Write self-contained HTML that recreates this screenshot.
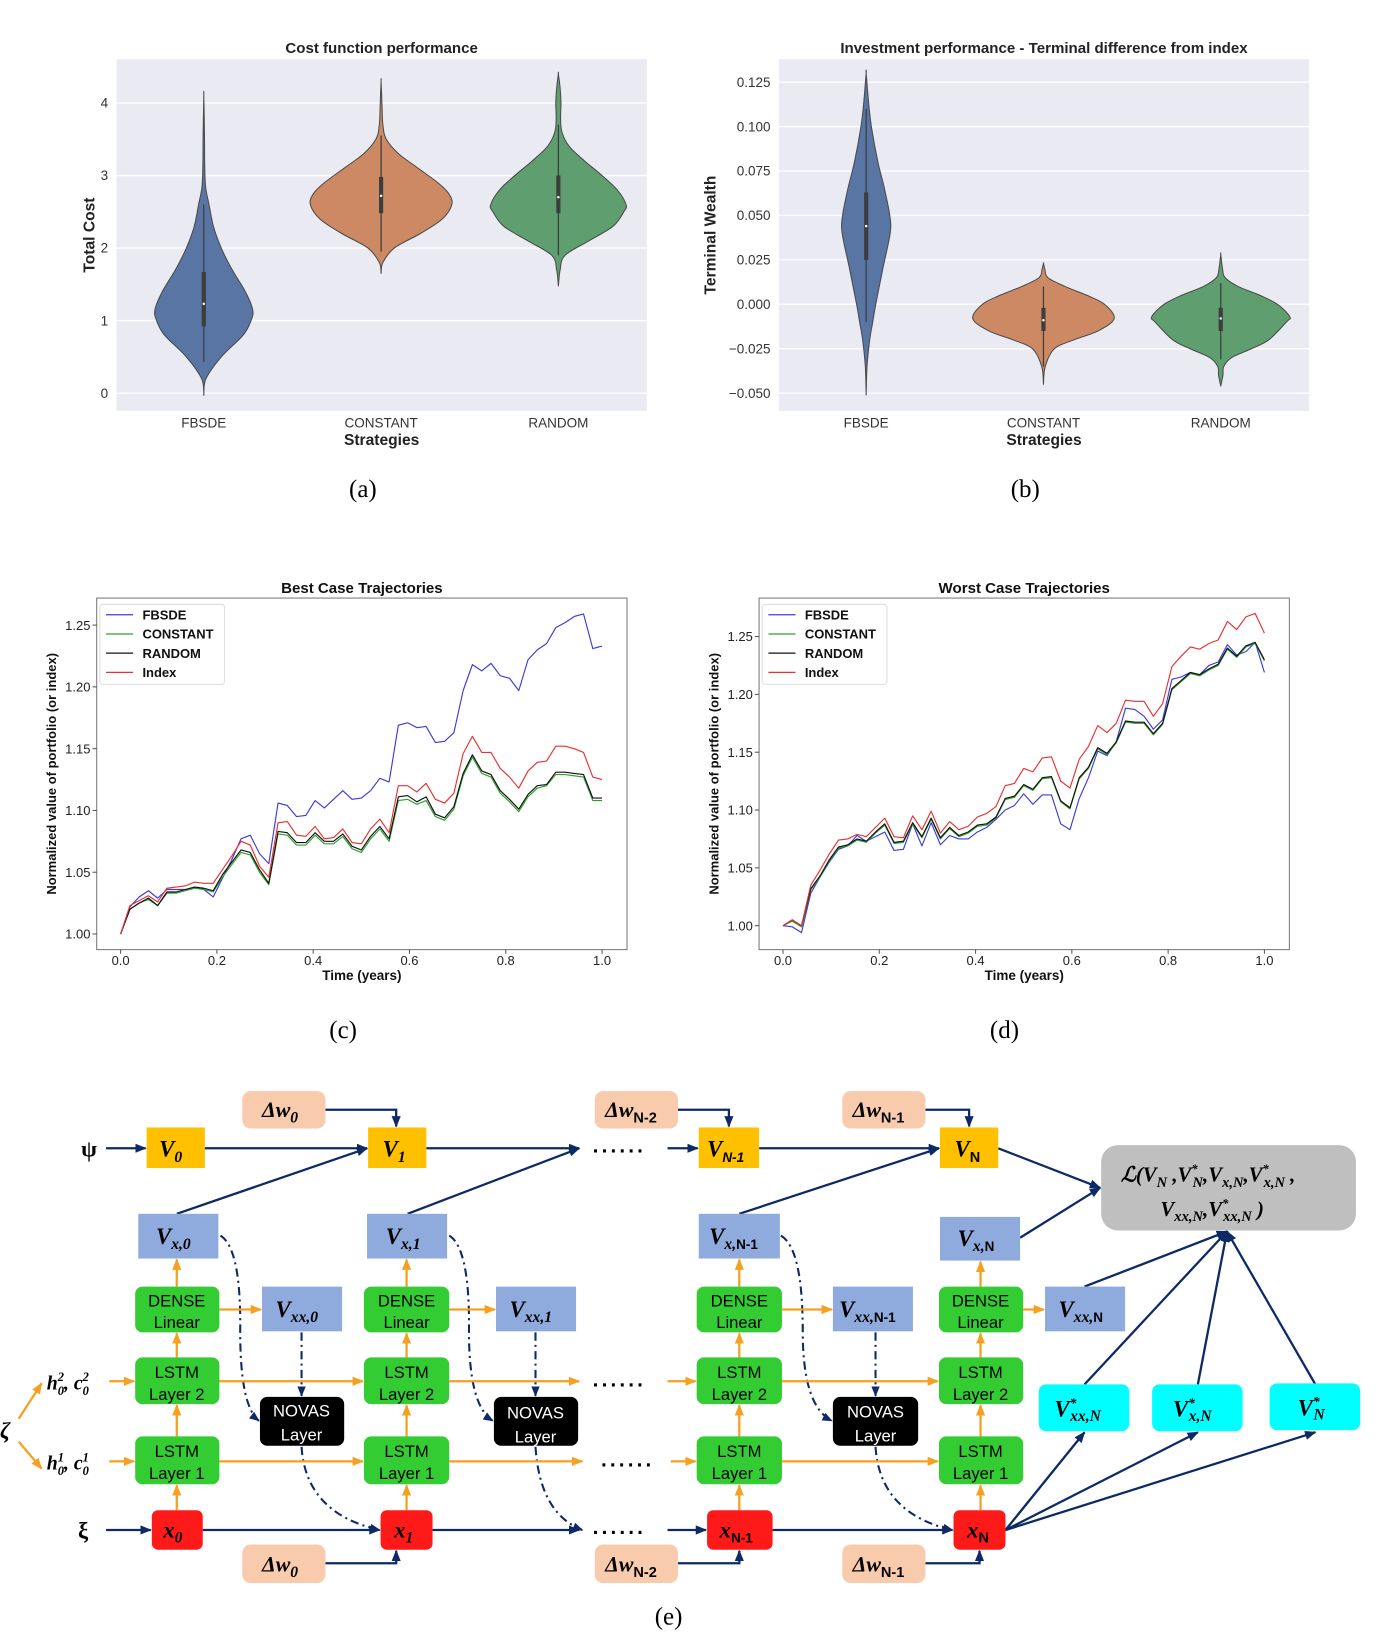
<!DOCTYPE html>
<html><head><meta charset="utf-8">
<style>
html,body{margin:0;padding:0;background:#fff;}
svg{display:block;}
.t{font-family:"Liberation Sans",sans-serif;}
.m{font-family:"Liberation Serif",serif;font-style:italic;font-weight:bold;}
.s{font-family:"Liberation Serif",serif;}
</style></head>
<body>
<svg id="root" width="1384" height="1634" viewBox="0 0 1331 1571" preserveAspectRatio="none" xmlns="http://www.w3.org/2000/svg">
<defs>
<marker id="an" viewBox="0 0 10 10" refX="9" refY="5" markerWidth="5" markerHeight="5" orient="auto"><path d="M0,1 L10,5 L0,9 z" fill="#0d2a66"/></marker>
<marker id="ao" viewBox="0 0 10 10" refX="9" refY="5" markerWidth="5" markerHeight="5" orient="auto"><path d="M0,1 L10,5 L0,9 z" fill="#f5a020"/></marker>
</defs>
<g id="charts"></g>
<text class="s" x="349" y="478" font-size="24" text-anchor="middle">(a)</text>
<text class="s" x="986" y="478" font-size="24" text-anchor="middle">(b)</text>
<text class="s" x="330" y="998" font-size="24" text-anchor="middle">(c)</text>
<text class="s" x="966" y="998" font-size="24" text-anchor="middle">(d)</text>
<text class="s" x="643" y="1562" font-size="24" text-anchor="middle">(e)</text>

<g id="diagram">
<g stroke="#0d2a66" stroke-width="2.2" fill="none">
<line x1="102" y1="1104" x2="140" y2="1104" marker-end="url(#an)"/>
<line x1="197" y1="1104" x2="353" y2="1104" marker-end="url(#an)"/>
<line x1="170" y1="1167" x2="353" y2="1104" marker-end="url(#an)"/>
<polyline points="313,1067 381,1067 381,1083" marker-end="url(#an)"/>
<line x1="410" y1="1104" x2="557" y2="1104" marker-end="url(#an)"/>
<line x1="392" y1="1167" x2="557" y2="1104" marker-end="url(#an)"/>
<line x1="642" y1="1104" x2="671" y2="1104" marker-end="url(#an)"/>
<polyline points="652,1067 701,1067 701,1083" marker-end="url(#an)"/>
<line x1="730" y1="1104" x2="903" y2="1104" marker-end="url(#an)"/>
<line x1="711" y1="1167" x2="903" y2="1104" marker-end="url(#an)"/>
<polyline points="890,1067 932,1067 932,1083" marker-end="url(#an)"/>
<line x1="960" y1="1104" x2="1058" y2="1142" marker-end="url(#an)"/>
<line x1="981" y1="1190" x2="1058" y2="1142" marker-end="url(#an)"/>
<line x1="1043" y1="1237" x2="1180" y2="1184" marker-end="url(#an)"/>
<line x1="1043" y1="1331" x2="1180" y2="1184" marker-end="url(#an)"/>
<line x1="1152" y1="1331" x2="1180" y2="1184" marker-end="url(#an)"/>
<line x1="1265" y1="1331" x2="1180" y2="1184" marker-end="url(#an)"/>
<line x1="967" y1="1471" x2="1043" y2="1377" marker-end="url(#an)"/>
<line x1="967" y1="1471" x2="1152" y2="1377" marker-end="url(#an)"/>
<line x1="967" y1="1471" x2="1265" y2="1377" marker-end="url(#an)"/>
<line x1="102" y1="1471" x2="145" y2="1471" marker-end="url(#an)"/>
<line x1="195" y1="1471" x2="365" y2="1471" marker-end="url(#an)"/>
<line x1="416" y1="1471" x2="557" y2="1471" marker-end="url(#an)"/>
<line x1="642" y1="1471" x2="679" y2="1471" marker-end="url(#an)"/>
<line x1="743" y1="1471" x2="916" y2="1471" marker-end="url(#an)"/>
<polyline points="313,1503 381,1503 381,1491" marker-end="url(#an)"/>
<polyline points="652,1503 711,1503 711,1491" marker-end="url(#an)"/>
<polyline points="890,1503 942,1503 942,1491" marker-end="url(#an)"/>
</g>
<g stroke="#0d2a66" stroke-width="2" fill="none" stroke-dasharray="8,4,2,4">
<path d="M212,1188 Q232,1200 231,1280 Q231,1352 249,1366" marker-end="url(#an)"/>
<path d="M290,1281 L290,1342" marker-end="url(#an)"/>
<path d="M290,1391 Q294,1455 365,1471" marker-end="url(#an)"/>
<path d="M432,1188 Q452,1200 451,1280 Q451,1352 474,1366" marker-end="url(#an)"/>
<path d="M515,1281 L515,1342" marker-end="url(#an)"/>
<path d="M515,1391 Q519,1455 560,1471" marker-end="url(#an)"/>
<path d="M751,1188 Q772,1200 772,1280 Q772,1352 800,1366" marker-end="url(#an)"/>
<path d="M842,1281 L842,1342" marker-end="url(#an)"/>
<path d="M842,1391 Q846,1455 916,1471" marker-end="url(#an)"/>
</g>
<g stroke="#f5a020" stroke-width="2.2" fill="none">
<line x1="170" y1="1452" x2="170" y2="1428" marker-end="url(#ao)"/>
<line x1="170" y1="1381" x2="170" y2="1351" marker-end="url(#ao)"/>
<line x1="170" y1="1305" x2="170" y2="1282" marker-end="url(#ao)"/>
<line x1="170" y1="1237" x2="170" y2="1211" marker-end="url(#ao)"/>
<line x1="391" y1="1452" x2="391" y2="1428" marker-end="url(#ao)"/>
<line x1="391" y1="1381" x2="391" y2="1351" marker-end="url(#ao)"/>
<line x1="391" y1="1305" x2="391" y2="1282" marker-end="url(#ao)"/>
<line x1="391" y1="1237" x2="391" y2="1211" marker-end="url(#ao)"/>
<line x1="711" y1="1452" x2="711" y2="1428" marker-end="url(#ao)"/>
<line x1="711" y1="1381" x2="711" y2="1351" marker-end="url(#ao)"/>
<line x1="711" y1="1305" x2="711" y2="1282" marker-end="url(#ao)"/>
<line x1="711" y1="1237" x2="711" y2="1211" marker-end="url(#ao)"/>
<line x1="943" y1="1452" x2="943" y2="1428" marker-end="url(#ao)"/>
<line x1="943" y1="1381" x2="943" y2="1351" marker-end="url(#ao)"/>
<line x1="943" y1="1305" x2="943" y2="1282" marker-end="url(#ao)"/>
<line x1="943" y1="1237" x2="943" y2="1213" marker-end="url(#ao)"/>
<line x1="211" y1="1259" x2="251" y2="1259" marker-end="url(#ao)"/>
<line x1="432" y1="1259" x2="476" y2="1259" marker-end="url(#ao)"/>
<line x1="752" y1="1259" x2="800" y2="1259" marker-end="url(#ao)"/>
<line x1="984" y1="1259" x2="1004" y2="1259" marker-end="url(#ao)"/>
<line x1="211" y1="1328" x2="349" y2="1328" marker-end="url(#ao)"/>
<line x1="432" y1="1328" x2="557" y2="1328" marker-end="url(#ao)"/>
<line x1="642" y1="1328" x2="669" y2="1328" marker-end="url(#ao)"/>
<line x1="752" y1="1328" x2="902" y2="1328" marker-end="url(#ao)"/>
<line x1="211" y1="1405" x2="349" y2="1405" marker-end="url(#ao)"/>
<line x1="432" y1="1405" x2="560" y2="1405" marker-end="url(#ao)"/>
<line x1="645" y1="1405" x2="669" y2="1405" marker-end="url(#ao)"/>
<line x1="752" y1="1405" x2="902" y2="1405" marker-end="url(#ao)"/>
<line x1="105" y1="1328" x2="129" y2="1328" marker-end="url(#ao)"/>
<line x1="105" y1="1405" x2="129" y2="1405" marker-end="url(#ao)"/>
<line x1="18" y1="1364" x2="40" y2="1330" marker-end="url(#ao)"/>
<line x1="18" y1="1386" x2="40" y2="1412" marker-end="url(#ao)"/>
</g>
<g class="t" font-size="20" font-weight="bold" fill="#000">
<text x="570" y="1108" letter-spacing="3">......</text>
<text x="570" y="1333" letter-spacing="3">......</text>
<text x="578" y="1410" letter-spacing="3">......</text>
<text x="570" y="1475" letter-spacing="3">......</text>
</g>
<g fill="#f8cbad">
<rect x="233" y="1049" width="80" height="36" rx="8"/><rect x="572" y="1049" width="80" height="36" rx="8"/><rect x="810" y="1049" width="80" height="36" rx="8"/>
<rect x="233" y="1485" width="80" height="37" rx="8"/><rect x="572" y="1485" width="80" height="37" rx="8"/><rect x="810" y="1485" width="80" height="37" rx="8"/>
</g>
<g class="m" font-size="21">
<text x="252" y="1074">Δw<tspan font-size="15" dy="5">0</tspan></text>
<text x="582" y="1074">Δw<tspan class="t" font-style="normal" font-size="14" dy="5">N-2</tspan></text>
<text x="820" y="1074">Δw<tspan class="t" font-style="normal" font-size="14" dy="5">N-1</tspan></text>
<text x="252" y="1511">Δw<tspan font-size="15" dy="5">0</tspan></text>
<text x="582" y="1511">Δw<tspan class="t" font-style="normal" font-size="14" dy="5">N-2</tspan></text>
<text x="820" y="1511">Δw<tspan class="t" font-style="normal" font-size="14" dy="5">N-1</tspan></text>
</g>
<g fill="#ffc000">
<rect x="141" y="1084" width="56" height="39"/><rect x="354" y="1084" width="56" height="39"/><rect x="672" y="1084" width="58" height="39"/><rect x="904" y="1084" width="56" height="39"/>
</g>
<g class="m" font-size="22">
<text x="153" y="1112">V<tspan font-size="15" dy="5">0</tspan></text>
<text x="368" y="1112">V<tspan font-size="15" dy="5">1</tspan></text>
<text x="680" y="1112">V<tspan class="t" font-size="13" dy="5">N-1</tspan></text>
<text x="918" y="1112">V<tspan class="t" font-style="normal" font-size="14" dy="5">N</tspan></text>
</g>
<g fill="#8faadc">
<rect x="133" y="1167" width="77" height="43"/><rect x="353" y="1167" width="77" height="43"/><rect x="672" y="1167" width="78" height="43"/><rect x="904" y="1170" width="77" height="42"/>
<rect x="252" y="1237" width="77" height="43"/><rect x="477" y="1237" width="77" height="43"/><rect x="801" y="1237" width="77" height="43"/><rect x="1005" y="1237" width="77" height="43"/>
</g>
<g class="m" font-size="22">
<text x="150" y="1196">V<tspan font-size="15" dy="5">x,0</tspan></text>
<text x="371" y="1196">V<tspan font-size="15" dy="5">x,1</tspan></text>
<text x="682" y="1196">V<tspan font-size="15" dy="5">x,</tspan><tspan class="t" font-style="normal" font-size="13">N-1</tspan></text>
<text x="921" y="1198">V<tspan font-size="15" dy="5">x,</tspan><tspan class="t" font-style="normal" font-size="13">N</tspan></text>
<text x="265" y="1266">V<tspan font-size="15" dy="5">xx,0</tspan></text>
<text x="490" y="1266">V<tspan font-size="15" dy="5">xx,1</tspan></text>
<text x="807" y="1266">V<tspan font-size="15" dy="5">xx,</tspan><tspan class="t" font-style="normal" font-size="13">N-1</tspan></text>
<text x="1018" y="1266">V<tspan font-size="15" dy="5">xx,</tspan><tspan class="t" font-style="normal" font-size="13">N</tspan></text>
</g>
<g fill="#33cc33">
<rect x="130" y="1237" width="81" height="44" rx="7"/><rect x="350" y="1237" width="82" height="44" rx="7"/><rect x="670" y="1237" width="82" height="44" rx="7"/><rect x="903" y="1237" width="81" height="44" rx="7"/>
<rect x="130" y="1305" width="81" height="45" rx="7"/><rect x="350" y="1305" width="82" height="45" rx="7"/><rect x="670" y="1305" width="82" height="45" rx="7"/><rect x="903" y="1305" width="81" height="45" rx="7"/>
<rect x="130" y="1381" width="81" height="46" rx="7"/><rect x="350" y="1381" width="82" height="46" rx="7"/><rect x="670" y="1381" width="82" height="46" rx="7"/><rect x="903" y="1381" width="81" height="46" rx="7"/>
</g>
<g class="t" font-size="16" text-anchor="middle" fill="#000">
<text x="170" y="1256">DENSE</text><text x="170" y="1277">Linear</text>
<text x="391" y="1256">DENSE</text><text x="391" y="1277">Linear</text>
<text x="711" y="1256">DENSE</text><text x="711" y="1277">Linear</text>
<text x="943" y="1256">DENSE</text><text x="943" y="1277">Linear</text>
<text x="170" y="1325">LSTM</text><text x="170" y="1346">Layer 2</text>
<text x="391" y="1325">LSTM</text><text x="391" y="1346">Layer 2</text>
<text x="711" y="1325">LSTM</text><text x="711" y="1346">Layer 2</text>
<text x="943" y="1325">LSTM</text><text x="943" y="1346">Layer 2</text>
<text x="170" y="1401">LSTM</text><text x="170" y="1422">Layer 1</text>
<text x="391" y="1401">LSTM</text><text x="391" y="1422">Layer 1</text>
<text x="711" y="1401">LSTM</text><text x="711" y="1422">Layer 1</text>
<text x="943" y="1401">LSTM</text><text x="943" y="1422">Layer 1</text>
</g>
<g fill="#000">
<rect x="250" y="1343" width="81" height="47" rx="7"/><rect x="475" y="1343" width="81" height="47" rx="7"/><rect x="801" y="1343" width="82" height="47" rx="7"/>
</g>
<g class="t" font-size="16" text-anchor="middle" fill="#fff">
<text x="290" y="1362">NOVAS</text><text x="290" y="1385">Layer</text>
<text x="515" y="1364">NOVAS</text><text x="515" y="1387">Layer</text>
<text x="842" y="1363">NOVAS</text><text x="842" y="1386">Layer</text>
</g>
<g fill="#ff1a1a">
<rect x="146" y="1452" width="49" height="38" rx="6"/><rect x="366" y="1452" width="50" height="38" rx="6"/><rect x="680" y="1452" width="63" height="38" rx="6"/><rect x="917" y="1452" width="50" height="38" rx="6"/>
</g>
<g class="m" font-size="22">
<text x="157" y="1478">x<tspan font-size="15" dy="5">0</tspan></text>
<text x="379" y="1478">x<tspan font-size="15" dy="5">1</tspan></text>
<text x="692" y="1478">x<tspan class="t" font-style="normal" font-size="13" dy="5">N-1</tspan></text>
<text x="930" y="1478">x<tspan class="t" font-style="normal" font-size="14" dy="5">N</tspan></text>
</g>
<rect x="1059" y="1101" width="245" height="82" rx="16" fill="#bfbfbf"/>
<text class="m" x="1078" y="1136" font-size="20">ℒ(V<tspan font-size="14" dy="5">N</tspan><tspan dy="-5"> ,V</tspan><tspan font-size="12" dy="-8">*</tspan><tspan font-size="14" dx="-5" dy="13">N</tspan><tspan dy="-5">,V</tspan><tspan font-size="14" dy="5">x,N</tspan><tspan dy="-5">,V</tspan><tspan font-size="12" dy="-8">*</tspan><tspan font-size="14" dx="-5" dy="13">x,N</tspan><tspan dy="-5"> ,</tspan></text>
<text class="m" x="1116" y="1169" font-size="20">V<tspan font-size="14" dy="5">xx,N</tspan><tspan dy="-5">,V</tspan><tspan font-size="12" dy="-8">*</tspan><tspan font-size="14" dx="-5" dy="13">xx,N</tspan><tspan dy="-5"> )</tspan></text>
<g fill="#00ffff">
<rect x="999" y="1331" width="87" height="45" rx="7"/><rect x="1108" y="1331" width="87" height="45" rx="7"/><rect x="1221" y="1330" width="87" height="45" rx="7"/>
</g>
<g class="m" font-size="22">
<text x="1014" y="1362">V<tspan font-size="13" dy="-9">*</tspan><tspan font-size="15" dx="-6" dy="13">xx,N</tspan></text>
<text x="1128" y="1362">V<tspan font-size="13" dy="-9">*</tspan><tspan font-size="15" dx="-6" dy="13">x,N</tspan></text>
<text x="1248" y="1361">V<tspan font-size="13" dy="-9">*</tspan><tspan font-size="15" dx="-6" dy="13">N</tspan></text>
</g>
<g class="s" font-size="22" font-weight="bold">
<text x="78" y="1112">ψ</text>
<text x="75" y="1479">ξ</text>
<text x="0" y="1383" font-style="italic">ζ</text>
<text x="45" y="1336" font-style="italic" font-size="19">h<tspan font-size="12" dy="-8">2</tspan><tspan font-size="12" dx="-6" dy="13">0</tspan><tspan dy="-5">, c</tspan><tspan font-size="12" dy="-8">2</tspan><tspan font-size="12" dx="-6" dy="13">0</tspan></text>
<text x="45" y="1413" font-style="italic" font-size="19">h<tspan font-size="12" dy="-8">1</tspan><tspan font-size="12" dx="-6" dy="13">0</tspan><tspan dy="-5">, c</tspan><tspan font-size="12" dy="-8">1</tspan><tspan font-size="12" dx="-6" dy="13">0</tspan></text>
</g>
</g>
</svg>
<script>
// ---------- data ----------
const violinCats = ["FBSDE","CONSTANT","RANDOM"];
const costTicks = [0,1,2,3,4];
const costFbsdeVals = [-0.03,0.2,0.5,0.8,1.0,1.15,1.4,1.7,2.0,2.3,2.6,2.85,3.2,3.6,4.1];
const costFbsdeDens = [0,5,40,90,108,112,95,65,40,22,12,4,2,1.5,0];
const costConstVals = [1.65,1.8,2.0,2.2,2.4,2.6,2.75,2.9,3.1,3.3,3.5,3.7,4.0,4.3];
const costConstDens = [0,4,30,90,140,162,155,130,85,40,12,4,2,0];
const costRandVals = [1.48,1.7,1.9,2.1,2.3,2.5,2.6,2.8,3.0,3.2,3.4,3.6,3.8,4.0,4.2,4.4];
const costRandDens = [0,4,15,70,125,150,155,135,100,60,25,8,5,6,4,0];
const costQuartiles = [[0.92,1.23,1.67],[2.48,2.72,2.98],[2.48,2.7,3.0]];
const costWhiskers = [[0.43,2.6],[1.95,3.55],[1.9,3.7]];

const wealthTicks = [-0.05,-0.025,0,0.025,0.05,0.075,0.1,0.125];
const wealthTickLabels = ["\u22120.050","\u22120.025","0.000","0.025","0.050","0.075","0.100","0.125"];
const wealthFbsdeVals = [-0.051,-0.035,-0.02,-0.01,0.0,0.02,0.04,0.05,0.065,0.08,0.1,0.115,0.13];
const wealthFbsdeDens = [0,2,8,15,22,38,55,54,42,27,12,5,0];
const wealthConstVals = [-0.045,-0.035,-0.025,-0.02,-0.015,-0.008,0.0,0.005,0.01,0.015,0.02,0.023];
const wealthConstDens = [0,4,25,70,125,162,140,100,50,10,3,0];
const wealthRandVals = [-0.046,-0.04,-0.035,-0.03,-0.025,-0.02,-0.01,-0.007,0.0,0.005,0.01,0.015,0.02,0.028];
const wealthRandDens = [0,5,7,25,70,110,150,158,130,90,40,10,4,0];
const wealthQuartiles = [[0.025,0.044,0.063],[-0.015,-0.009,-0.002],[-0.015,-0.008,-0.002]];
const wealthWhiskers = [[-0.01,0.11],[-0.035,0.01],[-0.031,0.012]];

const seriesNames = ["FBSDE","CONSTANT","RANDOM","Index"];
const timeTicks = [0,0.2,0.4,0.6,0.8,1.0];
const valueTicks = [1.00,1.05,1.10,1.15,1.20,1.25];
const bestFbsde = [1.00,1.022,1.030,1.035,1.029,1.036,1.036,1.036,1.038,1.036,1.030,1.045,1.060,1.077,1.080,1.065,1.057,1.106,1.104,1.095,1.096,1.108,1.102,1.109,1.116,1.109,1.110,1.116,1.126,1.123,1.169,1.171,1.167,1.168,1.155,1.156,1.163,1.197,1.218,1.213,1.219,1.209,1.207,1.197,1.222,1.230,1.235,1.248,1.252,1.257,1.259,1.231,1.233];
const bestIndex = [1.00,1.023,1.027,1.031,1.026,1.037,1.038,1.039,1.042,1.041,1.041,1.052,1.063,1.075,1.072,1.055,1.046,1.090,1.091,1.080,1.079,1.087,1.077,1.078,1.085,1.074,1.073,1.085,1.093,1.082,1.120,1.120,1.115,1.122,1.109,1.106,1.114,1.146,1.160,1.147,1.147,1.134,1.127,1.118,1.132,1.139,1.140,1.152,1.152,1.150,1.147,1.127,1.125];
const bestRandom = [1.00,1.020,1.025,1.029,1.023,1.034,1.034,1.036,1.038,1.037,1.035,1.048,1.058,1.068,1.066,1.052,1.041,1.083,1.082,1.074,1.074,1.082,1.075,1.075,1.081,1.071,1.068,1.079,1.087,1.077,1.111,1.112,1.107,1.111,1.097,1.094,1.103,1.130,1.145,1.132,1.129,1.116,1.109,1.101,1.113,1.120,1.121,1.131,1.131,1.130,1.129,1.110,1.110];
const bestConstant = [1.00,1.020,1.025,1.028,1.023,1.033,1.033,1.035,1.037,1.036,1.034,1.046,1.056,1.066,1.064,1.050,1.040,1.081,1.080,1.072,1.072,1.080,1.073,1.073,1.079,1.069,1.066,1.077,1.085,1.075,1.108,1.109,1.105,1.108,1.095,1.092,1.101,1.128,1.143,1.130,1.127,1.114,1.107,1.099,1.111,1.118,1.120,1.129,1.129,1.128,1.127,1.108,1.108];
const worstFbsde = [1.00,0.999,0.994,1.028,1.042,1.055,1.066,1.069,1.078,1.073,1.077,1.081,1.065,1.066,1.088,1.069,1.089,1.070,1.078,1.075,1.075,1.081,1.085,1.092,1.100,1.104,1.114,1.105,1.113,1.113,1.088,1.083,1.110,1.128,1.151,1.147,1.159,1.188,1.187,1.181,1.170,1.178,1.213,1.215,1.219,1.217,1.225,1.228,1.243,1.234,1.237,1.245,1.219];
const worstIndex = [1.00,1.005,1.000,1.035,1.048,1.062,1.074,1.075,1.079,1.077,1.085,1.093,1.077,1.076,1.095,1.083,1.099,1.080,1.090,1.083,1.086,1.094,1.097,1.103,1.121,1.123,1.136,1.133,1.145,1.146,1.125,1.119,1.144,1.155,1.173,1.167,1.175,1.195,1.194,1.194,1.181,1.192,1.224,1.233,1.241,1.239,1.244,1.247,1.263,1.256,1.267,1.270,1.253];
const worstRandom = [1.00,1.005,1.000,1.032,1.043,1.057,1.068,1.070,1.075,1.073,1.081,1.088,1.072,1.073,1.089,1.077,1.093,1.076,1.085,1.078,1.081,1.087,1.088,1.094,1.110,1.112,1.122,1.118,1.128,1.129,1.108,1.102,1.128,1.137,1.154,1.149,1.159,1.177,1.176,1.176,1.166,1.175,1.205,1.212,1.219,1.217,1.222,1.226,1.240,1.233,1.242,1.245,1.230];
const worstConstant = [1.00,1.004,0.999,1.031,1.042,1.056,1.067,1.069,1.074,1.072,1.080,1.087,1.071,1.072,1.088,1.076,1.092,1.075,1.084,1.077,1.080,1.086,1.087,1.093,1.109,1.111,1.121,1.117,1.127,1.128,1.107,1.101,1.127,1.136,1.153,1.148,1.158,1.176,1.175,1.175,1.165,1.174,1.204,1.211,1.218,1.216,1.221,1.225,1.239,1.232,1.241,1.244,1.229];

// ---------- drawing ----------
const NS = "http://www.w3.org/2000/svg";
const root = document.getElementById("charts");
function mk(tag, attrs, parent) {
  const e = document.createElementNS(NS, tag);
  for (const k in attrs) e.setAttribute(k, attrs[k]);
  (parent || root).appendChild(e);
  return e;
}
function txt(s, attrs, parent) { const e = mk("text", attrs, parent); e.textContent = s; return e; }

const violinColors = ["#5875a4","#cc8963","#5f9e6e"];

// smooth path through points (Catmull-Rom)
function smooth(pts) {
  let d = "M" + pts[0][0].toFixed(1) + "," + pts[0][1].toFixed(1);
  for (let i = 0; i < pts.length - 1; i++) {
    const p0 = pts[Math.max(0, i - 1)], p1 = pts[i], p2 = pts[i + 1], p3 = pts[Math.min(pts.length - 1, i + 2)];
    const c1 = [p1[0] + (p2[0] - p0[0]) / 6, p1[1] + (p2[1] - p0[1]) / 6];
    const c2 = [p2[0] - (p3[0] - p1[0]) / 6, p2[1] - (p3[1] - p1[1]) / 6];
    d += ` C${c1[0].toFixed(1)},${c1[1].toFixed(1)} ${c2[0].toFixed(1)},${c2[1].toFixed(1)} ${p2[0].toFixed(1)},${p2[1].toFixed(1)}`;
  }
  return d;
}

function violinChart(cfg) {
  const g = mk("g", {});
  
  
  const bg = mk("rect", {x: cfg.x0, y: cfg.y0, width: cfg.x1 - cfg.x0, height: cfg.y1 - cfg.y0, fill: "#eaeaf2"}, g);
  
  
  const sy = v => cfg.yA + (v - cfg.vA) * (cfg.yB - cfg.yA) / (cfg.vB - cfg.vA);
  const sx = i => cfg.catX0 + i * cfg.catStep;
  cfg.ticks.forEach((t, i) => {
    const gl = mk("line", {x1: cfg.x0, x2: cfg.x1, y1: sy(t), y2: sy(t), stroke: "#fff", "stroke-width": 1.3}, g);
    
    
    const tl = txt(cfg.tickLabels ? cfg.tickLabels[i] : String(t), {x: cfg.x0 - 8, y: sy(t) + 4.5, "font-size": 13, "text-anchor": "end", fill: "#333", class: "t"}, g);
    
    
  });
  cfg.vals.forEach((vals, i) => {
    const dens = cfg.dens[i], cx = sx(i), k = 0.42;
    const pts = [];
    vals.forEach((v, j) => pts.push([cx + dens[j] * k, sy(v)]));
    for (let j = vals.length - 1; j >= 0; j--) pts.push([cx - dens[j] * k, sy(vals[j])]);
    const p = mk("path", {d: smooth(pts) + " Z", fill: violinColors[i], stroke: "#4a4a4a", "stroke-width": 1, "stroke-linejoin": "round"}, g);
    
    
    const w = cfg.whisk[i], q = cfg.quart[i];
    const wl = mk("line", {x1: cx, x2: cx, y1: sy(w[0]), y2: sy(w[1]), stroke: "#3d3d3d", "stroke-width": 1.2}, g);
    
    
    const bx = mk("line", {x1: cx, x2: cx, y1: sy(q[0]), y2: sy(q[2]), stroke: "#3d3d3d", "stroke-width": 4}, g);
    
    
    const md = mk("circle", {cx: cx, cy: sy(q[1]), r: 1.2, fill: "#fff"}, g);
    
    
    const cl = txt(violinCats[i], {x: cx, y: cfg.y1 + 16, "font-size": 13, "text-anchor": "middle", fill: "#333", class: "t"}, g);
    
    
  });
  const xt = txt("Strategies", {x: (cfg.x0 + cfg.x1) / 2, y: cfg.y1 + 33, "font-size": 15, "font-weight": "bold", "text-anchor": "middle", fill: "#222", class: "t"}, g);
  
  
  const yt = txt(cfg.ylabel, {x: 0, y: 0, "font-size": 15, "font-weight": "bold", "text-anchor": "middle", fill: "#222", class: "t", transform: `translate(${cfg.ylx},${(cfg.y0 + cfg.y1) / 2}) rotate(-90)`}, g);
  
  
  const tt = txt(cfg.title, {x: (cfg.x0 + cfg.x1) / 2, y: cfg.y0 - 6, "font-size": 14.5, "font-weight": "bold", "text-anchor": "middle", fill: "#222", class: "t"}, g);
  
  
}

violinChart({name: "cost-violin-chart", title: "Cost function performance", ylabel: "Total Cost", ylx: 91,
  x0: 112, x1: 622, y0: 57, y1: 395, vA: 0, yA: 378, vB: 4, yB: 99, catX0: 196, catStep: 170.5,
  ticks: costTicks, vals: [costFbsdeVals, costConstVals, costRandVals], dens: [costFbsdeDens, costConstDens, costRandDens],
  quart: costQuartiles, whisk: costWhiskers});
violinChart({name: "wealth-violin-chart", title: "Investment performance - Terminal difference from index", ylabel: "Terminal Wealth", ylx: 688,
  x0: 749, x1: 1259, y0: 57, y1: 395, vA: -0.05, yA: 378, vB: 0.125, yB: 79, catX0: 833, catStep: 170.5,
  ticks: wealthTicks, tickLabels: wealthTickLabels, vals: [wealthFbsdeVals, wealthConstVals, wealthRandVals], dens: [wealthFbsdeDens, wealthConstDens, wealthRandDens],
  quart: wealthQuartiles, whisk: wealthWhiskers});

const lineColors = ["#3b3bd9","#2ca02c","#111111","#e83030"];
function lineChart(cfg) {
  const g = mk("g", {});
  
  
  const sx = t => cfg.xA + t * (cfg.xB - cfg.xA);
  const sy = v => cfg.yA - (v - 1) * (cfg.yA - cfg.yB) / 0.25;
  const fr = mk("rect", {x: cfg.x0, y: cfg.y0, width: cfg.x1 - cfg.x0, height: cfg.y1 - cfg.y0, fill: "#fff", stroke: "#777", "stroke-width": 1}, g);
  
  
  valueTicks.forEach(v => {
    const tk = mk("line", {x1: cfg.x0 - 4, x2: cfg.x0, y1: sy(v), y2: sy(v), stroke: "#555"}, g);
    
    
    const tl = txt(v.toFixed(2), {x: cfg.x0 - 6, y: sy(v) + 4.5, "font-size": 12.5, "text-anchor": "end", fill: "#222", class: "t"}, g);
    
    
  });
  timeTicks.forEach(t => {
    const tk = mk("line", {x1: sx(t), x2: sx(t), y1: cfg.y1, y2: cfg.y1 + 4, stroke: "#555"}, g);
    
    
    const tl = txt(t.toFixed(1), {x: sx(t), y: cfg.y1 + 15, "font-size": 12.5, "text-anchor": "middle", fill: "#222", class: "t"}, g);
    
    
  });
  [0, 1, 2, 3].forEach(si => {
    const data = cfg.series[si];
    const n = data.length - 1;
    const pts = data.map((v, i) => sx(i / n).toFixed(1) + "," + sy(v).toFixed(1)).join(" ");
    const pl = mk("polyline", {points: pts, fill: "none", stroke: lineColors[si], "stroke-width": 1.1, "stroke-linejoin": "round"}, g);
    
    
  });
  const lg = mk("rect", {x: cfg.x0 + 3, y: cfg.y0 + 6, width: 120, height: 77, rx: 3, fill: "#fff", stroke: "#ddd"}, g);
  
  
  seriesNames.forEach((s, i) => {
    const y = cfg.y0 + 16 + i * 18.5;
    const ll = mk("line", {x1: cfg.x0 + 9, x2: cfg.x0 + 35, y1: y, y2: y, stroke: lineColors[i], "stroke-width": 1.2}, g);
    
    
    const lt = txt(s, {x: cfg.x0 + 44, y: y + 4.5, "font-size": 12.5, "font-weight": "bold", fill: "#111", class: "t"}, g);
    
    
  });
  const xt = txt("Time (years)", {x: (cfg.x0 + cfg.x1) / 2, y: cfg.y1 + 29, "font-size": 13, "font-weight": "bold", "text-anchor": "middle", fill: "#111", class: "t"}, g);
  
  
  const yt = txt("Normalized value of portfolio (or index)", {x: 0, y: 0, "font-size": 12.5, "font-weight": "bold", "text-anchor": "middle", fill: "#111", class: "t", transform: `translate(${cfg.ylx},${(cfg.y0 + cfg.y1) / 2}) rotate(-90)`}, g);
  
  
  const tt = txt(cfg.title, {x: (cfg.x0 + cfg.x1) / 2, y: cfg.y0 - 5, "font-size": 14.5, "font-weight": "bold", "text-anchor": "middle", fill: "#111", class: "t"}, g);
  
  
}
lineChart({name: "best-case-chart", title: "Best Case Trajectories", x0: 93, x1: 603, y0: 575, y1: 913, xA: 116, xB: 579, yA: 898, yB: 601, ylx: 54,
  series: [bestFbsde, bestConstant, bestRandom, bestIndex]});
lineChart({name: "worst-case-chart", title: "Worst Case Trajectories", x0: 730, x1: 1240, y0: 575, y1: 913, xA: 753, xB: 1216, yA: 890, yB: 612, ylx: 691,
  series: [worstFbsde, worstConstant, worstRandom, worstIndex]});
</script>
</body></html>
